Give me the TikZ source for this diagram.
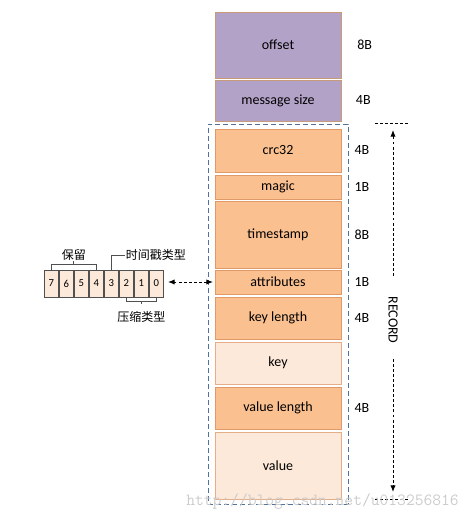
\documentclass[tikz,border=0pt]{standalone}
\usepackage{fontspec}
\setmainfont{Carlito}
\newfontfamily\cjk{Noto Sans CJK SC}
\usetikzlibrary{arrows.meta,positioning,fit,shadows,calc}

\definecolor{hdrfill}{HTML}{B3A2C7}
\definecolor{hdrline}{HTML}{C99A78}
\definecolor{fldfill}{HTML}{FAC090}
\definecolor{fldline}{HTML}{E09A6A}
\definecolor{datfill}{HTML}{FDE9D9}
\definecolor{recline}{HTML}{52719A}
\definecolor{bitline}{HTML}{505050}

\tikzset{
  box/.style={rectangle, minimum width=94.5pt, inner sep=0pt, outer sep=0pt,
    line width=0.6pt, font=\fontsize{10.5}{12}\selectfont,
    drop shadow={shadow xshift=0.9pt, shadow yshift=-0.9pt, opacity=0.35}},
  hdr/.style={box, fill=hdrfill, draw=hdrline},
  fld/.style={box, fill=fldfill, draw=fldline},
  dat/.style={box, fill=datfill, draw=fldline!80},
  sz/.style={font=\fontsize{10.5}{12}\selectfont, inner sep=0pt},
  bit/.style={rectangle, draw=bitline, fill=datfill, line width=0.6pt,
    minimum width=10.5pt, minimum height=20.25pt, inner sep=0pt, outer sep=0pt,
    font=\fontsize{8}{9}\selectfont},
  brk/.style={draw=bitline, line width=0.6pt},
  cjklabel/.style={font=\cjk\fontsize{9}{10}\selectfont, inner sep=0.5pt},
  guide/.style={line width=0.75pt, dash pattern=on 2.2pt off 1.6pt},
  tip/.style={-{Latex[length=5pt,width=4pt]}}
}

\begin{document}
\begin{tikzpicture}[x=0.75pt, y=-0.75pt]
    \useasboundingbox (0,0) rectangle (474,520);

    % message header
    \node[hdr, minimum height=49.5pt] (ofs) at (278,45) {offset};
    \node[hdr, minimum height=30.75pt, below=1.5pt of ofs] (msz) {message size};

    % record fields
    \node[fld, minimum height=32.25pt, below=6pt of msz] (crc) {crc32};
    \node[fld, minimum height=18pt, below=2.25pt of crc] (mag) {magic};
    \node[fld, minimum height=50.25pt, below=1.5pt of mag] (ts) {timestamp};
    \node[fld, minimum height=18pt, below=1.5pt of ts] (attr) {attributes};
    \node[fld, minimum height=31.5pt, below=2.25pt of attr] (klen) {key length};
    \node[dat, minimum height=31.5pt, below=2.25pt of klen] (key) {key};
    \node[fld, minimum height=31.5pt, below=2.25pt of key] (vlen) {value length};
    \node[dat, minimum height=50.25pt, below=2.25pt of vlen] (val) {value};

    % sizes
    \node[sz, right=12pt of ofs] {8B};
    \node[sz, right=11pt of msz] {4B};
    \node[sz, right=10pt of crc] {4B};
    \node[sz, right=10pt of mag] {1B};
    \node[sz, right=10pt of ts] {8B};
    \node[sz, right=10pt of attr] {1B};
    \node[sz, right=10pt of klen] {4B};
    \node[sz, right=10pt of vlen] {4B};

    % record frame
    \node[draw=recline, line width=0.6pt, dash pattern=on 4pt off 2pt,
      fit=(crc)(val), inner xsep=5.25pt, inner ysep=3.75pt] (rec) {};
    \node[sz, rotate=-90] (rlabel) at (393,320) {RECORD};
    \coordinate (rtop) at (393,124);
    \coordinate (rbot) at (393,499);
    \draw[guide] ([xshift=-13.5pt]rtop) -- ([xshift=12.75pt]rtop);
    \draw[guide] ([xshift=-13.5pt]rbot) -- ([xshift=12.75pt]rbot);
    \draw[guide, tip, shorten <=15pt, shorten >=4.5pt] (rlabel.west) -- (rtop);
    \draw[guide, tip, shorten <=11.25pt, shorten >=5.25pt] (rlabel.east) -- (rbot);

    % attribute bits
    \foreach \b [count=\i from 0] in {7,...,0}
        \node[bit] (b\b) at (51.3+15*\i,283.5) {\b};

    \draw[brk] (b7.north) -- ++(0,-6) -| (b4.north);
    \node[cjklabel, anchor=south] (keep) at ($(b7.north)!0.5!(b4.north)+(0,-9)$) {保留};
    \draw[brk] ($(b7.north)!0.5!(b4.north)+(0,-6)$) -- (keep.south);

    \node[cjklabel, anchor=west] (tstype) at (125,255) {时间戳类型};
    \draw[brk] (b3.north) |- (tstype.west);

    \draw[brk] (b2.south) -- ++(0,4) -| (b0.south);
    \node[cjklabel, anchor=north] (ctype) at ($(b2.south)!0.5!(b0.south)+(0,13)$) {压缩类型};
    \draw[brk] ($(b2.south)!0.5!(b0.south)+(0,4)$) -- ++(0,3);

    \draw[guide, {Latex[length=5pt,width=4pt]}-{Latex[length=5pt,width=4pt]},
      shorten <=1.5pt, shorten >=3.5pt] (attr.west) -- (attr.west -| b0.east);

    % watermark
    \node[font=\ttfamily\fontsize{12.8}{14}\selectfont, text=gray!40, inner sep=0pt]
      (wmark) at (322.5,502) {http://blog.csdn.net/u013256816};
\end{tikzpicture}
\end{document}
